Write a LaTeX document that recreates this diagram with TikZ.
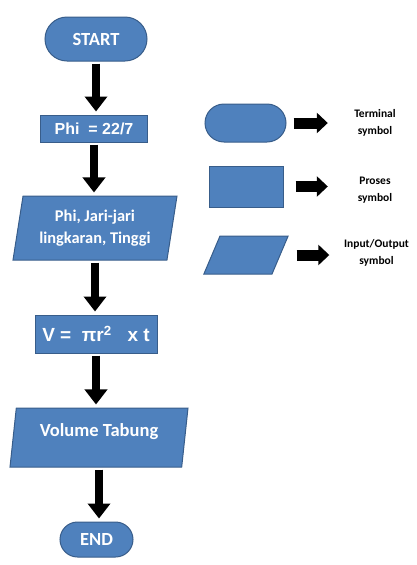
\documentclass[tikz,border=0pt]{standalone}
\usepackage{fontspec}
\setmainfont{Carlito}
\newfontfamily\arialfont{Liberation Sans}
\usetikzlibrary{positioning, arrows.meta, shapes.geometric}
\definecolor{boxblue}{HTML}{4F81BD}
\definecolor{boxedge}{HTML}{385D8A}
\tikzset{
  shapebase/.style = {draw=boxedge, fill=boxblue, line width=1pt, text=white, inner sep=2pt},
  terminal/.style  = {shapebase, rectangle, font=\bfseries\fontsize{18.5}{22}\selectfont},
  process/.style   = {shapebase, rectangle, font=\arialfont\bfseries\fontsize{16}{19}\selectfont},
  io/.style        = {shapebase, trapezium, trapezium stretches body, align=center,
                      font=\bfseries\fontsize{16.4}{22}\selectfont},
  flow/.style      = {-{Triangle[width=22pt,length=15pt]}, line width=8pt, shorten <=2pt, shorten >=3pt},
  legarr/.style    = {-{Triangle[width=20pt,length=11pt]}, line width=11pt, shorten >=12pt},
  legtext/.style   = {font=\bfseries\fontsize{11.5}{17}\selectfont, align=center, minimum width=70pt, inner sep=0pt}
}

\begin{document}
\begin{tikzpicture}[x=1pt, y=-1pt]
  \useasboundingbox (0,0) rectangle (417,565);

  % flowchart
  \node[terminal, minimum width=102pt, minimum height=44pt, rounded corners=22pt] (start) at (96,39) {START};
  \node[process, minimum width=107pt, minimum height=27pt] (phi) at (94,128.5) {Phi\ \ = 22/7};
  \node[io, trapezium left angle=76, trapezium right angle=104,
        minimum width=164pt, minimum height=64pt] (input) at (95,228) {Phi, Jari-jari\\lingkaran, Tinggi};
  \node[process, minimum width=122pt, minimum height=38pt,
        font=\arialfont\bfseries\fontsize{19}{23}\selectfont] (volume) at (96,334)
        {V =\ \ πr\textsuperscript{2}\ \ \ x t};
  \node[io, trapezium left angle=78.5, trapezium right angle=101.5, text depth=14pt,
        minimum width=178pt, minimum height=59pt, font=\bfseries\fontsize{18.5}{22}\selectfont] (output) at (99,437.5) {Volume Tabung};
  \node[terminal, minimum width=73pt, minimum height=35pt, rounded corners=17.5pt] (end) at (96.5,539.5) {END};

  \draw[flow] (start.south)  -- (start.south |- phi.north);
  \draw[flow] (phi.south)    -- (phi.south |- input.north);
  \draw[flow] (input.south)  -- (input.south |- volume.north);
  \draw[flow] (volume.south) -- (volume.south |- output.north);
  \draw[flow] (output.south) -- (output.south |- end.north);

  % legend
  \node[terminal, minimum width=81pt, minimum height=38pt, rounded corners=19pt] (lterm) at (245.5,123) {};
  \node[process, minimum width=74pt, minimum height=41pt] (lproc) at (246,186.5) {};
  \node[io, trapezium left angle=67, trapezium right angle=113,
        inner xsep=26pt, inner ysep=19pt] (lio) at (246,255) {};

  \node[legtext] (ltermtxt) at (375,123) {Terminal\\symbol};
  \node[legtext] (lproctxt) at (375,190) {Proses\\symbol};
  \node[legtext] (liotxt)   at (376.5,252.5) {Input/Output\\symbol};

  \draw[legarr, shorten <=7pt]  (lterm.east) -- (lterm.east -| ltermtxt.west);
  \draw[legarr, shorten <=12pt] (lproc.east) -- (lproc.east -| lproctxt.west);
  \draw[legarr, shorten <=16pt] (lio.east)   -- (lio.east -| liotxt.west);
\end{tikzpicture}
\end{document}
